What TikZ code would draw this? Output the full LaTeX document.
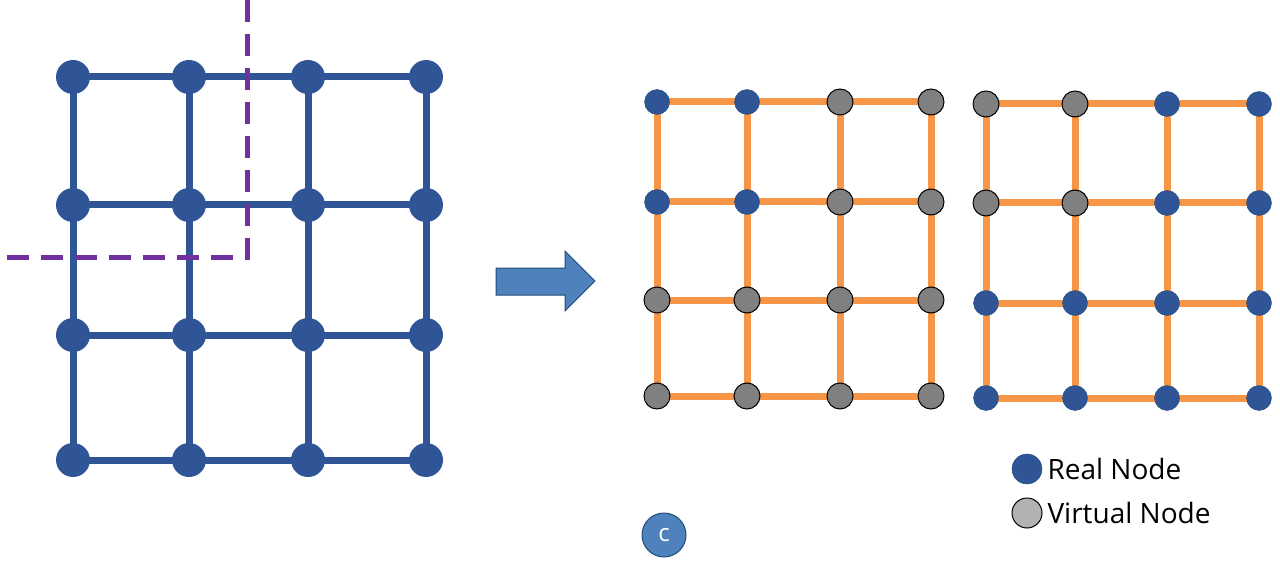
\documentclass[tikz,border=0pt]{standalone}
\usepackage{fontspec}
\setmainfont{Open Sans}
\definecolor{rb}{HTML}{2F5597}
\definecolor{rd}{HTML}{1F4E79}
\definecolor{og}{HTML}{F79646}
\definecolor{pu}{HTML}{7030A0}
\definecolor{ab}{HTML}{4F81BD}
\tikzset{
 big/.style={circle,fill=rb,minimum size=34pt,inner sep=0},
 real/.style={circle,fill=rb,draw=rd,minimum size=25pt,inner sep=0},
 virt/.style={circle,fill=gray,draw=black,line width=1pt,minimum size=26pt,inner sep=0},
 bl/.style={rb,line width=7pt},
 ol/.style={og,line width=7pt},
}
\begin{document}
\begin{tikzpicture}[x=1pt,y=-1pt]
\useasboundingbox (0,0) rectangle (1280,564);
% left grid
\def\LX{{73,189,308,426}}\def\LY{{77,205,335,460}}
\foreach \i in {0,...,3}\foreach \j in {0,...,3}{
 \pgfmathsetmacro\xx{\LX[\i]}\pgfmathsetmacro\yy{\LY[\j]}
 \coordinate (L\i\j) at (\xx,\yy);}
\foreach \i in {0,...,3}{\foreach \j/\k in {0/1,1/2,2/3}{
 \draw[bl] (L\i\j) -- (L\i\k); \draw[bl] (L\j\i) -- (L\k\i);}}
\foreach \i in {0,...,3}\foreach \j in {0,...,3}{\node[big] (l\i\j) at (L\i\j) {};}
\draw[pu,line width=5pt,dash pattern=on 22pt off 12pt] (247,0) -- (247,258) -- (0,258);
% arrow
\draw[fill=ab,draw=rd,line width=1pt] (496,268) -- (565,268) -- (565,251) -- (595,281) -- (565,311) -- (565,295) -- (496,295) -- cycle;
% middle and right grids
\def\MX{{657,747,840,931}}\def\MY{{102,202,300,396}}
\def\RX{{986,1075,1167,1259}}\def\RY{{104,203,303,398}}
\foreach \i in {0,...,3}\foreach \j in {0,...,3}{
 \pgfmathsetmacro\xx{\MX[\i]}\pgfmathsetmacro\yy{\MY[\j]}
 \coordinate (M\i\j) at (\xx,\yy);
 \pgfmathsetmacro\xx{\RX[\i]}\pgfmathsetmacro\yy{\RY[\j]}
 \coordinate (R\i\j) at (\xx,\yy);}
\foreach \i in {0,...,3}{\foreach \j/\k in {0/1,1/2,2/3}{
 \draw[ol] (M\i\j) -- (M\i\k); \draw[ol] (M\j\i) -- (M\k\i);
 \draw[ol] (R\i\j) -- (R\i\k); \draw[ol] (R\j\i) -- (R\k\i);}}
\foreach \i in {0,...,3}\foreach \j in {0,...,3}{
 \pgfmathtruncatemacro\inner{(\i<2)&&(\j<2)}
 \ifnum\inner=1
  \node[real] (m\i\j) at (M\i\j) {}; \node[virt] (r\i\j) at (R\i\j) {};
 \else
  \node[virt] (m\i\j) at (M\i\j) {}; \node[real] (r\i\j) at (R\i\j) {};
 \fi}
% legend
\node[real,minimum size=30pt] (lg1) at (1027,469) {};
\node[anchor=west,font=\fontsize{28}{32}\selectfont] (t1) at (1044,469) {Real Node};
\node[virt,fill=gray!60,minimum size=30pt] (lg2) at (1027,513) {};
\node[anchor=west,font=\fontsize{28}{32}\selectfont] (t2) at (1044,513) {Virtual Node};
% label c
\node[circle,fill=ab,draw=rd,line width=1pt,minimum size=44pt,text=white,font=\fontsize{24}{26}\selectfont] (c) at (664,535) {c};
\end{tikzpicture}
\end{document}
